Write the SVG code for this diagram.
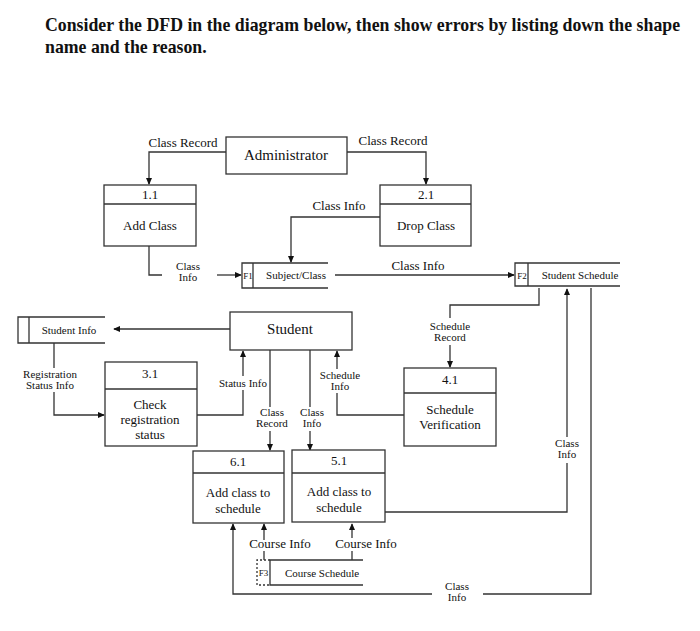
<svg xmlns="http://www.w3.org/2000/svg" width="700" height="631" viewBox="0 0 700 631">
<style>
text{font-family:"Liberation Serif","DejaVu Serif",serif;fill:#111;text-anchor:middle}
.t{font-size:17.8px;font-weight:bold;text-anchor:start}
.n{font-size:15px}
.l{font-size:13px}
.s{font-size:11px}
.b{fill:#fff;stroke:#333;stroke-width:1.3}
.c line,.c polyline,.c path{fill:none;stroke:#333;stroke-width:1.3}
.st{fill:none;stroke:#333;stroke-width:1.3}
</style>
<defs><marker id="a" viewBox="0 0 8 8" refX="7" refY="4" markerWidth="7" markerHeight="7" orient="auto" markerUnits="userSpaceOnUse"><path d="M0,0.5L8,4L0,7.5z" fill="#111"/></marker></defs>
<rect width="700" height="631" fill="#fff"/>
<text class="t" x="45" y="31">Consider the DFD in the diagram below, then show errors by listing down the shape</text>
<text class="t" x="45" y="53">name and the reason.</text>

<g class="c">
<polyline points="226,152 149,152 149,184" marker-end="url(#a)"/>
<polyline points="347,152 426,152 426,184" marker-end="url(#a)"/>
<polyline points="380,217 291,217 291,262" marker-end="url(#a)"/>
<polyline points="149,246 149,275 162,275"/>
<line x1="217" y1="275" x2="241" y2="275" marker-end="url(#a)"/>
<line x1="335" y1="275" x2="514" y2="275" marker-end="url(#a)"/>
<polyline points="539,288 539,305 450,305 450,318"/>
<line x1="450" y1="345" x2="450" y2="367" marker-end="url(#a)"/>
<polyline points="404,415 337,415 337,393"/>
<line x1="337" y1="369" x2="337" y2="351" marker-end="url(#a)"/>
<polyline points="385,512 567,512 567,463"/>
<line x1="567" y1="437" x2="567" y2="289" marker-end="url(#a)"/>
<polyline points="591,288 591,594 483,594"/>
<polyline points="432,594 233,594 233,524" marker-end="url(#a)"/>
<line x1="230" y1="329" x2="114" y2="329" marker-end="url(#a)"/>
<polyline points="54,343 54,368"/>
<polyline points="54,392 54,415 104,415" marker-end="url(#a)"/>
<polyline points="197,415 243,415 243,390"/>
<line x1="243" y1="376" x2="243" y2="351" marker-end="url(#a)"/>
<line x1="270" y1="350" x2="270" y2="407"/>
<line x1="270" y1="431" x2="270" y2="450" marker-end="url(#a)"/>
<line x1="310" y1="350" x2="310" y2="407"/>
<line x1="310" y1="431" x2="310" y2="450" marker-end="url(#a)"/>
<line x1="264" y1="540" x2="264" y2="524" marker-end="url(#a)"/>
<line x1="264" y1="551" x2="264" y2="560"/>
<line x1="352" y1="538" x2="352" y2="524" marker-end="url(#a)"/>
<line x1="352" y1="551" x2="352" y2="560"/>
</g>

<g class="l">
<text x="183" y="147">Class Record</text>
<text x="393" y="145">Class Record</text>
<text x="339" y="210">Class Info</text>
<text x="188" y="270" class="s">Class</text><text x="188" y="281" class="s">Info</text>
<text x="418" y="270">Class Info</text>
<text x="450" y="330" class="s">Schedule</text><text x="450" y="341" class="s">Record</text>
<text x="340" y="379" class="s">Schedule</text><text x="340" y="390" class="s">Info</text>
<text x="567" y="447" class="s">Class</text><text x="567" y="458" class="s">Info</text>
<text x="457" y="590" class="s">Class</text><text x="457" y="601" class="s">Info</text>
<text x="50" y="378" class="s">Registration</text><text x="50" y="389" class="s">Status Info</text>
<text x="243" y="387" class="s">Status Info</text>
<text x="272" y="416" class="s">Class</text><text x="272" y="427" class="s">Record</text>
<text x="312" y="416" class="s">Class</text><text x="312" y="427" class="s">Info</text>
<text x="280" y="548">Course Info</text>
<text x="366" y="548">Course Info</text>
</g>

<g id="admin"><rect class="b" x="226" y="137" width="121" height="37"/><text class="n" x="286" y="160">Administrator</text></g>
<g id="p11"><rect class="b" x="104" y="185" width="92" height="61"/><line class="st" x1="104" y1="204" x2="196" y2="204"/><text class="l" x="150" y="199">1.1</text><text class="l" x="150" y="230">Add Class</text></g>
<g id="p21"><rect class="b" x="380" y="185" width="91" height="61"/><line class="st" x1="380" y1="204" x2="471" y2="204"/><text class="l" x="426" y="199">2.1</text><text class="l" x="426" y="230">Drop Class</text></g>
<g id="f1"><path class="st" d="M328,263H242V288H328M253,263V288"/><text class="s" x="248" y="279" style="font-size:9px">F1</text><text class="s" x="296" y="279">Subject/Class</text></g>
<g id="f2"><path class="st" d="M620,263H515V286H620M528,263V286"/><text class="s" x="522" y="279" style="font-size:9px">F2</text><text class="s" x="580" y="279">Student Schedule</text></g>
<g id="student"><rect class="b" x="230" y="312" width="122" height="38"/><text class="n" x="290" y="334">Student</text></g>
<g id="sinfo"><path class="st" d="M105,317H18V343H105M29,317V343"/><text class="s" x="69" y="334">Student Info</text></g>
<g id="p31"><rect class="b" x="105" y="362" width="92" height="84"/><line class="st" x1="105" y1="389" x2="197" y2="389"/><text class="l" x="150" y="378">3.1</text><text class="l" x="150" y="409">Check</text><text class="l" x="150" y="424">registration</text><text class="l" x="150" y="439">status</text></g>
<g id="p41"><rect class="b" x="404" y="368" width="92" height="78"/><line class="st" x1="404" y1="393" x2="496" y2="393"/><text class="l" x="450" y="384">4.1</text><text class="l" x="450" y="414">Schedule</text><text class="l" x="450" y="429">Verification</text></g>
<g id="p61"><rect class="b" x="193" y="451" width="91" height="72"/><line class="st" x1="193" y1="473" x2="284" y2="473"/><text class="l" x="238" y="466">6.1</text><text class="l" x="238" y="497">Add class to</text><text class="l" x="238" y="513">schedule</text></g>
<g id="p51"><rect class="b" x="292" y="450" width="93" height="72"/><line class="st" x1="292" y1="473" x2="385" y2="473"/><text class="l" x="339" y="465">5.1</text><text class="l" x="339" y="496">Add class to</text><text class="l" x="339" y="512">schedule</text></g>
<g id="f3"><path class="st" d="M363,560H270V585H363M270,560V585"/><path class="st" stroke-dasharray="2,2" d="M270,560H257V585H270"/><text class="s" x="263.5" y="576" style="font-size:9px">F3</text><text class="s" x="322" y="577">Course Schedule</text></g>
</svg>
